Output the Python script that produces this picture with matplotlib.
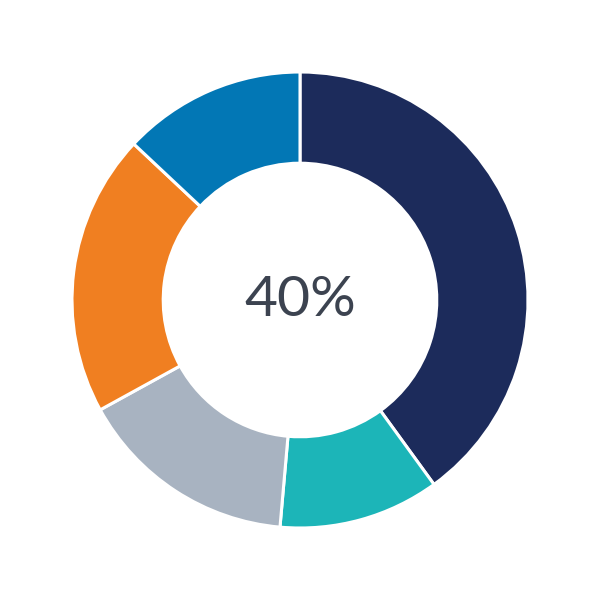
import matplotlib
matplotlib.use("Agg")
import matplotlib.pyplot as plt

# segments clockwise from 12 o'clock
labels = ["A", "B", "C", "D", "E"]
shares = [40, 11.4, 15.6, 20, 13]
colors = ["#1c2b5b", "#1cb5b8", "#a8b3c1", "#f07f21", "#0277b5"]
center_label = "40%"

fig = plt.figure(figsize=(6, 6), dpi=100)
ax = fig.add_axes([0, 0, 1, 1])
ax.pie(shares, colors=colors, startangle=90, counterclock=False,
       radius=1.0,
       wedgeprops=dict(width=0.40, edgecolor="white", linewidth=2.2))
ax.text(0, 0, center_label, ha="center", va="center", fontsize=41,
        color="#3c4350", family="Lato")
lim = 300 / 228
ax.set_xlim(-lim, lim)
ax.set_ylim(-lim, lim)
ax.set_aspect("equal")
ax.axis("off")
fig.savefig("out.png", dpi=100, facecolor="white")
